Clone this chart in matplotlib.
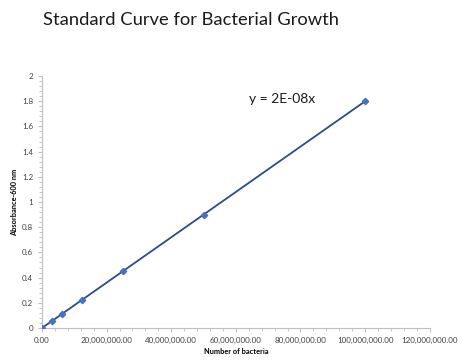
import matplotlib
matplotlib.use("Agg")
import matplotlib.pyplot as plt
from matplotlib.ticker import MultipleLocator, FuncFormatter

# data
bacteria = [0, 3125000, 6250000, 12500000, 25000000, 50000000, 100000000]
absorbance = [0, 0.056, 0.1125, 0.225, 0.45, 0.9, 1.8]
title = "Standard Curve for Bacterial Growth"
equation = "y = 2E-08x"

plt.rcParams["font.family"] = ["Lato", "DejaVu Sans"]

fig = plt.figure(figsize=(4.74, 3.64), dpi=100)
ax = fig.add_axes([0.0886, 0.099, 0.818, 0.692])

ax.plot(bacteria, absorbance, color="#2E4A8B", lw=1.3, zorder=2)
ax.plot(bacteria, absorbance, ls="none", marker="D", ms=3.2,
        color="#4A70C0", zorder=3)

ax.set_xlim(0, 120000000)
ax.set_ylim(0, 2)
ax.xaxis.set_major_locator(MultipleLocator(20000000))
ax.xaxis.set_minor_locator(MultipleLocator(4000000))
ax.yaxis.set_major_locator(MultipleLocator(0.2))
ax.yaxis.set_minor_locator(MultipleLocator(0.04))
ax.xaxis.set_major_formatter(FuncFormatter(lambda v, p: f"{v:,.2f}"))
ax.yaxis.set_major_formatter(FuncFormatter(lambda v, p: f"{v:g}"))

for side in ("top", "right"):
    ax.spines[side].set_visible(False)
for side in ("left", "bottom"):
    ax.spines[side].set_color("#BFBFBF")
    ax.spines[side].set_linewidth(0.8)
ax.tick_params(which="both", colors="#BFBFBF", labelcolor="#404040",
               labelsize=5.8, direction="out")
ax.tick_params(which="major", length=3)
ax.tick_params(which="minor", length=2)

ax.set_xlabel("Number of bacteria", fontsize=5.3, fontweight="bold", labelpad=3)
ax.set_ylabel("Absorbance-600 nm", fontsize=5.3, fontweight="bold", labelpad=3)

fig.text(0.09, 0.945, title, fontsize=13.2, color="#1a1a1a", va="center")
ax.text(0.535, 0.895, equation, transform=ax.transAxes, fontsize=10,
        color="#1a1a1a")

fig.savefig("out.png", dpi=100)
